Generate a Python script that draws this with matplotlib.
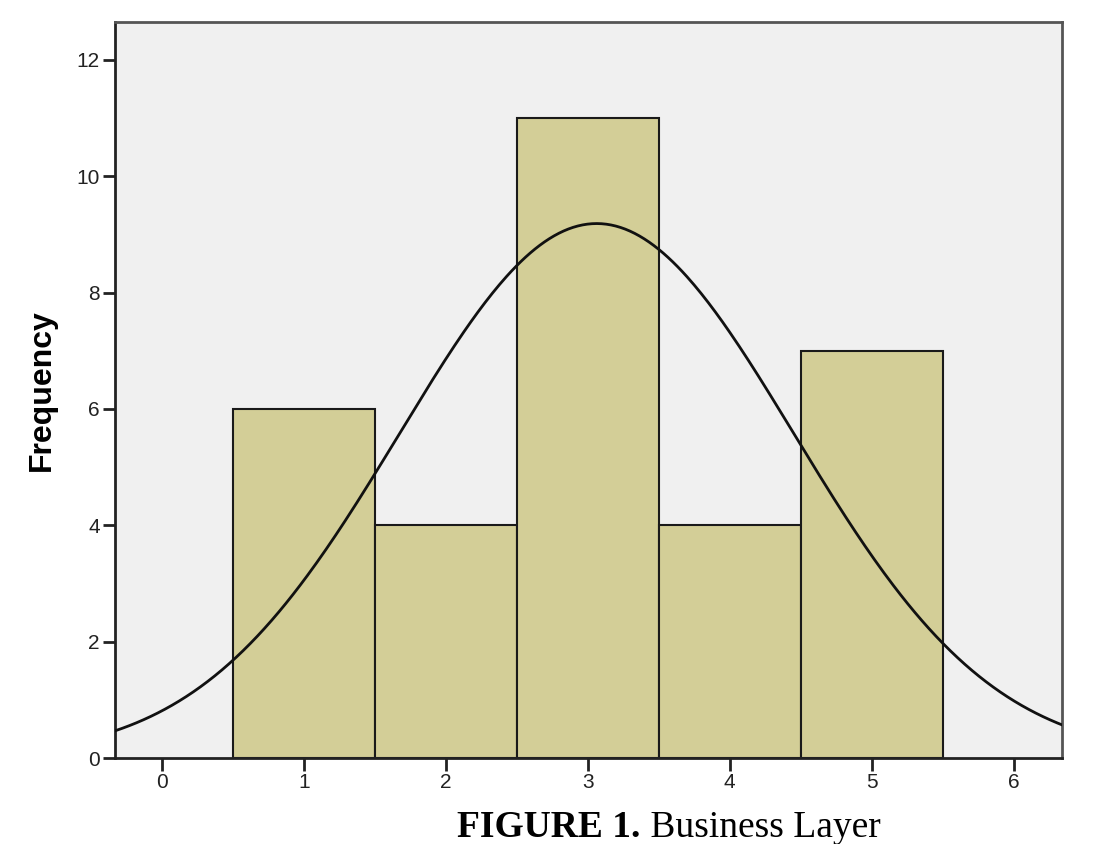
import numpy as np
import matplotlib
matplotlib.use("Agg")
import matplotlib.pyplot as plt

# histogram data
scores = [1, 2, 3, 4, 5]
counts = [6, 4, 11, 4, 7]
x_ticks = [0, 1, 2, 3, 4, 5, 6]
y_ticks = [0, 2, 4, 6, 8, 10, 12]
caption_bold = "FIGURE 1."
caption_rest = " Business Layer"

# normal curve fitted to the histogram (as SPSS draws it)
vals = np.repeat(scores, counts)
n = len(vals)
mu = vals.mean()
sd = vals.std(ddof=1)

fig = plt.figure(figsize=(11.1, 8.44), dpi=100)
ax = fig.add_axes([115 / 1110, 86 / 844, 947 / 1110, 736 / 844])
ax.set_facecolor("#f0f0f0")

ax.bar(scores, counts, width=1.0, color="#d3ce97", edgecolor="#1a1a1a", linewidth=1.5, zorder=2)

xs = np.linspace(-0.33, 6.34, 400)
ys = n * 1.0 / (sd * np.sqrt(2 * np.pi)) * np.exp(-0.5 * ((xs - mu) / sd) ** 2)
ax.plot(xs, ys, color="#111111", linewidth=2, zorder=3)

ax.set_xlim(-0.33, 6.34)
ax.set_ylim(0, 12.65)
ax.set_xticks(x_ticks)
ax.set_yticks(y_ticks)
ax.tick_params(direction="out", length=9, width=2, color="#222222",
               labelsize=15, labelcolor="#222222", pad=2)
for lab in ax.get_xticklabels() + ax.get_yticklabels():
    lab.set_family("Liberation Sans")

for side in ["left", "bottom"]:
    ax.spines[side].set_color("#222222")
    ax.spines[side].set_linewidth(2)
for side in ["top", "right"]:
    ax.spines[side].set_color("#555555")
    ax.spines[side].set_linewidth(2)

ax.set_ylabel("Frequency", fontsize=23, fontweight="bold", family="Liberation Sans", labelpad=14)

# caption below the plot, mixed bold / regular
t1 = fig.text(0.0, 0.0, caption_bold, fontsize=27, fontweight="bold", family="Liberation Serif")
t2 = fig.text(0.0, 0.0, caption_rest, fontsize=27, family="Liberation Serif")
fig.canvas.draw()
r = fig.canvas.get_renderer()
w1 = t1.get_window_extent(r).width
w2 = t2.get_window_extent(r).width
x0 = 669 - (w1 + w2) / 2
t1.set_position((x0 / 1110, 7 / 844))
t2.set_position(((x0 + w1) / 1110, 7 / 844))

fig.savefig("out.png", dpi=100)
